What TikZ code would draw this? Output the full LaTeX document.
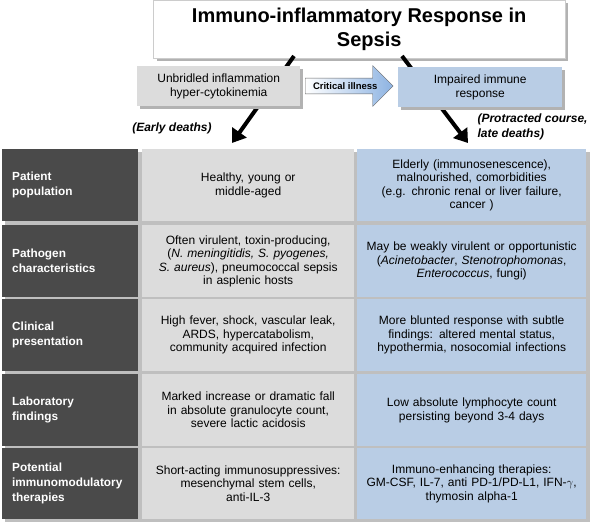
\documentclass[tikz,border=0pt]{standalone}
\usepackage{fontspec}
\setmainfont{Liberation Sans}
\usetikzlibrary{shapes.arrows,arrows.meta}
\definecolor{dark}{HTML}{4A4A4A}
\definecolor{lgray}{HTML}{DCDCDC}
\definecolor{lblue}{HTML}{B9CDE5}
\definecolor{arrblue}{HTML}{8DB3E2}
\begin{document}
\begin{tikzpicture}[x=1pt,y=-1pt,
  cell/.style={anchor=north west,inner sep=0pt,align=center,font=\fontsize{12}{13.5}\selectfont},
  head/.style={cell,fill=dark,text=white,font=\bfseries\fontsize{11.8}{15}\selectfont,align=left,inner xsep=10pt},
  gcell/.style={cell,fill=lgray},
  bcell/.style={cell,fill=lblue},
  bigarrow/.style={line width=4pt,-{Triangle[length=13pt,width=17pt]}}]
\useasboundingbox (0,0) rectangle (602,529);
% title
\fill[gray!60] (157,3) rectangle (568,61);
\node[draw=gray!40,fill=white,minimum width=412pt,minimum height=58pt,anchor=north west,inner sep=0pt,align=center,font=\bfseries\fontsize{20}{24}\selectfont] (title) at (153,0) {Immuno-inflammatory Response in\\\hspace*{1em}Sepsis};
\coordinate (tl) at (294,56);
\coordinate (tr) at (402,56);
\coordinate (el) at (232,143);
\coordinate (er) at (468,143);
\draw[bigarrow] (tl) -- (el);
\draw[bigarrow] (tr) -- (er);
% boxes
\fill[gray!60] (140,69) rectangle (303,109);
\node[gcell,minimum width=163pt,minimum height=40pt] (infl) at (137,66) {Unbridled inflammation\\hyper-cytokinemia};
\fill[gray!60] (401,70) rectangle (565,110);
\node[bcell,minimum width=164pt,minimum height=40pt] (imp) at (398,67) {Impaired immune\\response};
\node[single arrow,draw=gray!80!black,left color=white,right color=arrblue,minimum height=88pt,minimum width=41pt,single arrow head extend=9pt,single arrow head indent=0pt,inner sep=2pt,inner xsep=1pt,font=\bfseries\fontsize{9.5}{10}\selectfont,anchor=west] (crit) at (305,86) {Critical illness\hspace{4pt}};
\node[font=\bfseries\itshape\fontsize{12}{13}\selectfont] (early) at (172,128) {(Early deaths)};
\node[font=\bfseries\itshape\fontsize{12}{15}\selectfont,align=left,anchor=west] (late) at (474,127) {(Protracted course,\\late deaths)};
% table shadow
\fill[gray!50] (5,152) rectangle (590,522);
% rows
\foreach \y/\h/\a/\b/\c [count=\i] in {
 149/72/{Patient\\population}/{Healthy, young or\\middle-aged}/{Elderly (immunosenescence),\\malnourished, comorbidities\\(e.g. chronic renal or liver failure,\\cancer )},
 225/72/{Pathogen\\characteristics}/{Often virulent, toxin-producing,\\(\textit{N. meningitidis, S. pyogenes,}\\\textit{S. aureus}), pneumococcal sepsis\\in asplenic hosts}/{May be weakly virulent or opportunistic\\(\textit{Acinetobacter}, \textit{Stenotrophomonas},\\\textit{Enterococcus}, fungi)},
 299/72/{Clinical\\presentation}/{High fever, shock, vascular leak,\\ARDS, hypercatabolism,\\community acquired infection}/{More blunted response with subtle\\findings: altered mental status,\\hypothermia, nosocomial infections},
 374/72/{Laboratory\\findings}/{Marked increase or dramatic fall\\in absolute granulocyte count,\\severe lactic acidosis}/{Low absolute lymphocyte count\\persisting beyond 3-4 days},
 448/71/{Potential\\immunomodulatory\\therapies}/{Short-acting immunosuppressives:\\mesenchymal stem cells,\\anti-IL-3}/{Immuno-enhancing therapies:\\GM-CSF, IL-7, anti PD-1/PD-L1, IFN-$\gamma$,\\thymosin alpha-1}
}{
 \node[head,minimum height=\h pt,text width=116pt] (h\i) at (2,\y) {\a};
 \node[gcell,minimum height=\h pt,text width=212pt] (g\i) at (142,\y) {\b};
 \node[bcell,minimum height=\h pt,text width=229pt] (b\i) at (357,\y) {\c};
}
\end{tikzpicture}
\end{document}
